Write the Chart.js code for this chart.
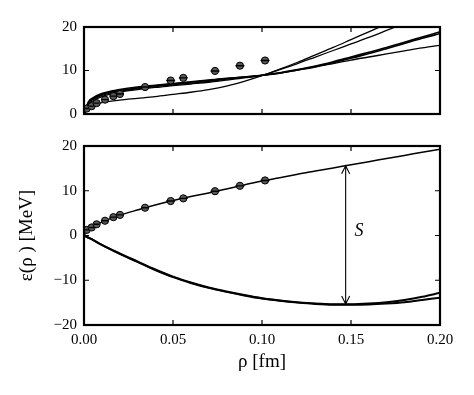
<!DOCTYPE html>
<html><head><meta charset="utf-8">
<script src="https://cdn.jsdelivr.net/npm/chart.js@4"></script>
<style>
html,body{margin:0;padding:0;background:#fff;}
#wrap{position:relative;width:474px;height:395px;overflow:hidden;}
#c1{position:absolute;left:0;top:0;}
#c2{position:absolute;left:0;top:130px;}
</style></head><body>
<div id="wrap"><canvas id="c1" width="474" height="130"></canvas><canvas id="c2" width="474" height="265"></canvas></div>
<script>
// ---- data ----
const rhoGrid = [0, 0.0025, 0.005, 0.01, 0.02, 0.03, 0.04, 0.05, 0.06, 0.07, 0.08, 0.09, 0.10, 0.11, 0.12, 0.13, 0.14, 0.15, 0.16, 0.17, 0.18, 0.19, 0.20];

// top panel model curves
const topCurve1 = [0, 1.3, 1.9, 2.6, 3.2, 3.6, 4.0, 4.5, 5.0, 5.6, 6.4, 7.5, 8.8, 10.3, 11.9, 13.6, 15.3, 17.1, 18.9, 20.7, 22.5, 24.3, 26.1];
const topCurve2 = [0, 2.2, 3.0, 4.0, 5.0, 5.6, 6.1, 6.5, 6.9, 7.3, 7.8, 8.3, 8.9, 10.2, 11.6, 13.1, 14.6, 16.1, 17.6, 19.2, 20.8, 22.4, 24.0];
const topCurve3 = [0, 2.8, 3.7, 4.7, 5.6, 6.2, 6.6, 7.0, 7.4, 7.8, 8.2, 8.5, 8.9, 9.5, 10.2, 11.0, 12.0, 13.1, 14.2, 15.3, 16.5, 17.7, 18.9];
const topCurve4 = [0, 2.6, 3.5, 4.5, 5.4, 6.0, 6.5, 6.9, 7.3, 7.7, 8.1, 8.5, 8.9, 9.4, 10.1, 10.9, 11.8, 12.8, 13.9, 15.0, 16.2, 17.4, 18.5];
const topCurve5 = [0, 2.5, 3.3, 4.3, 5.2, 5.8, 6.3, 6.7, 7.1, 7.5, 8.0, 8.4, 8.9, 9.4, 10.1, 10.8, 11.6, 12.4, 13.1, 13.8, 14.5, 15.2, 15.8];

// bottom panel curves
const neutronCurve = [0, 1.4, 2.0, 3.0, 4.5, 5.7, 6.8, 7.8, 8.7, 9.5, 10.4, 11.3, 12.2, 12.9, 13.7, 14.4, 15.1, 15.8, 16.5, 17.2, 17.9, 18.6, 19.3];
const symCurve1 = [0, -0.5, -1.0, -2.1, -4.0, -5.8, -7.6, -9.2, -10.5, -11.6, -12.5, -13.3, -14.0, -14.5, -14.9, -15.2, -15.35, -15.35, -15.2, -14.9, -14.4, -13.7, -12.8];
const symCurve2 = [0, -0.5, -1.0, -2.1, -4.1, -5.9, -7.7, -9.3, -10.6, -11.7, -12.6, -13.4, -14.1, -14.6, -15.0, -15.3, -15.45, -15.45, -15.4, -15.2, -14.9, -14.4, -13.9];

// data points (with horizontal error bars)
const pointRho = [0.0015, 0.0043, 0.0071, 0.0118, 0.0165, 0.0202, 0.0343, 0.0487, 0.0558, 0.0736, 0.0876, 0.1017];
const pointE   = [1.25, 1.8, 2.5, 3.3, 4.1, 4.6, 6.2, 7.7, 8.3, 9.9, 11.1, 12.3];
const pointErr = [0.0012, 0.0015, 0.0015, 0.002, 0.002, 0.002, 0.002, 0.0025, 0.0025, 0.0025, 0.0025, 0.0025];

// tick values / labels
const xTicks = [0, 0.05, 0.10, 0.15, 0.20];
const topYTicks = [0, 10, 20];
const bottomYTicks = [-20, -10, 0, 10, 20];

// arrow marking S
const arrowRho = 0.147;
const arrowTopE = 15.6;
const arrowBottomE = -15.3;
const sLabelRho = 0.1545;
const sLabelE = 1.0;

// ---- drawing ----
const SERIF = "'Liberation Serif', 'Times New Roman', serif";
const xy = (xs, ys) => xs.map((x, i) => ({x, y: ys[i]}));

function lineDs(ys, w) {
  return {type: 'line', data: xy(rhoGrid, ys), borderColor: '#000', borderWidth: w || 1.3,
    pointRadius: 0, fill: false, cubicInterpolationMode: 'monotone'};
}
function pointDs() {
  return {type: 'scatter', data: xy(pointRho, pointE), showLine: false, pointRadius: 3.6,
    pointBackgroundColor: '#5a5a5a', pointBorderColor: '#000', pointBorderWidth: 1, errors: pointErr};
}

const frameTicks = {
  id: 'frameTicks',
  afterDatasetsDraw(chart) {
    const {ctx, chartArea: a, scales: {x, y}} = chart;
    ctx.save();
    // error bars
    chart.data.datasets.forEach((ds, di) => {
      if (!ds.errors) return;
      ctx.strokeStyle = '#000'; ctx.lineWidth = 1.4;
      ctx.beginPath();
      ds.data.forEach((p, i) => {
        const py = y.getPixelForValue(p.y);
        ctx.moveTo(x.getPixelForValue(p.x - ds.errors[i]), py);
        ctx.lineTo(x.getPixelForValue(p.x + ds.errors[i]), py);
      });
      ctx.stroke();
    });
    // inward ticks
    ctx.strokeStyle = '#000'; ctx.lineWidth = 1.2;
    const L = 5;
    ctx.beginPath();
    x.ticks.forEach(t => {
      const p = x.getPixelForValue(t.value);
      if (p <= a.left + 1 || p >= a.right - 1) return;
      ctx.moveTo(p, a.bottom); ctx.lineTo(p, a.bottom - L);
      ctx.moveTo(p, a.top); ctx.lineTo(p, a.top + L);
    });
    y.ticks.forEach(t => {
      const p = y.getPixelForValue(t.value);
      if (p <= a.top + 1 || p >= a.bottom - 1) return;
      ctx.moveTo(a.left, p); ctx.lineTo(a.left + L, p);
      ctx.moveTo(a.right, p); ctx.lineTo(a.right - L, p);
    });
    ctx.stroke();
    ctx.lineWidth = 2.2;
    ctx.strokeRect(a.left, a.top, a.right - a.left, a.bottom - a.top);
    // arrow
    if (chart.options.plugins.sArrow) {
      const ax = x.getPixelForValue(arrowRho);
      const ay1 = y.getPixelForValue(arrowTopE);
      const ay2 = y.getPixelForValue(arrowBottomE);
      ctx.lineWidth = 1.1;
      ctx.beginPath();
      ctx.moveTo(ax, ay1); ctx.lineTo(ax, ay2);
      ctx.moveTo(ax - 4, ay1 + 8); ctx.lineTo(ax, ay1); ctx.lineTo(ax + 4, ay1 + 8);
      ctx.moveTo(ax - 4, ay2 - 8); ctx.lineTo(ax, ay2); ctx.lineTo(ax + 4, ay2 - 8);
      ctx.stroke();
      ctx.fillStyle = '#000';
      ctx.font = "italic 18px " + SERIF;
      ctx.textAlign = 'center'; ctx.textBaseline = 'middle';
      ctx.fillText('S', x.getPixelForValue(sLabelRho), y.getPixelForValue(sLabelE));
    }
    ctx.restore();
  }
};

function makeChart(id, datasets, yMin, yMax, yTicks, bottomPanel) {
  return new Chart(document.getElementById(id), {
    data: {datasets},
    plugins: [frameTicks],
    options: {
      responsive: false, animation: false, devicePixelRatio: 1,
      layout: {padding: {left: 0, right: 34, top: bottomPanel ? 10 : 27, bottom: 0}},
      plugins: {legend: {display: false}, tooltip: {enabled: false}, sArrow: bottomPanel},
      scales: {
        x: {type: 'linear', min: 0, max: 0.2,
          afterBuildTicks: s => { s.ticks = xTicks.map(v => ({value: v})); },
          afterFit: s => { s.height = bottomPanel ? 70 : 11; },
          grid: {display: false, drawTicks: false}, border: {display: false},
          ticks: {display: bottomPanel, padding: 6, color: '#000', font: {family: SERIF, size: 15},
            maxRotation: 0, autoSkip: false, callback: v => Number(v).toFixed(2)},
          title: {display: bottomPanel, text: 'ρ [fm]', color: '#000', font: {family: SERIF, size: 19},
            padding: {top: 0, bottom: 22}}
        },
        y: {type: 'linear', min: yMin, max: yMax,
          afterBuildTicks: s => { s.ticks = yTicks.map(v => ({value: v})); },
          afterFit: s => { s.width = 84; },
          grid: {display: false, drawTicks: false}, border: {display: false},
          ticks: {padding: 7, color: '#000', font: {family: SERIF, size: 15},
            callback: v => String(v).replace('-', '\u2212')},
          title: {display: bottomPanel, text: 'ε(ρ ) [MeV]', color: '#000', font: {family: SERIF, size: 19},
            padding: {top: 16, bottom: 0}}
        }
      }
    }
  });
}

makeChart('c1', [pointDs(), lineDs(topCurve1), lineDs(topCurve2), lineDs(topCurve3, 1.6), lineDs(topCurve4, 1.6), lineDs(topCurve5)], 0, 20, topYTicks, false);
makeChart('c2', [pointDs(), lineDs(neutronCurve, 1.5), lineDs(symCurve1, 2), lineDs(symCurve2, 2)], -20, 20, bottomYTicks, true);
</script>
</body></html>
